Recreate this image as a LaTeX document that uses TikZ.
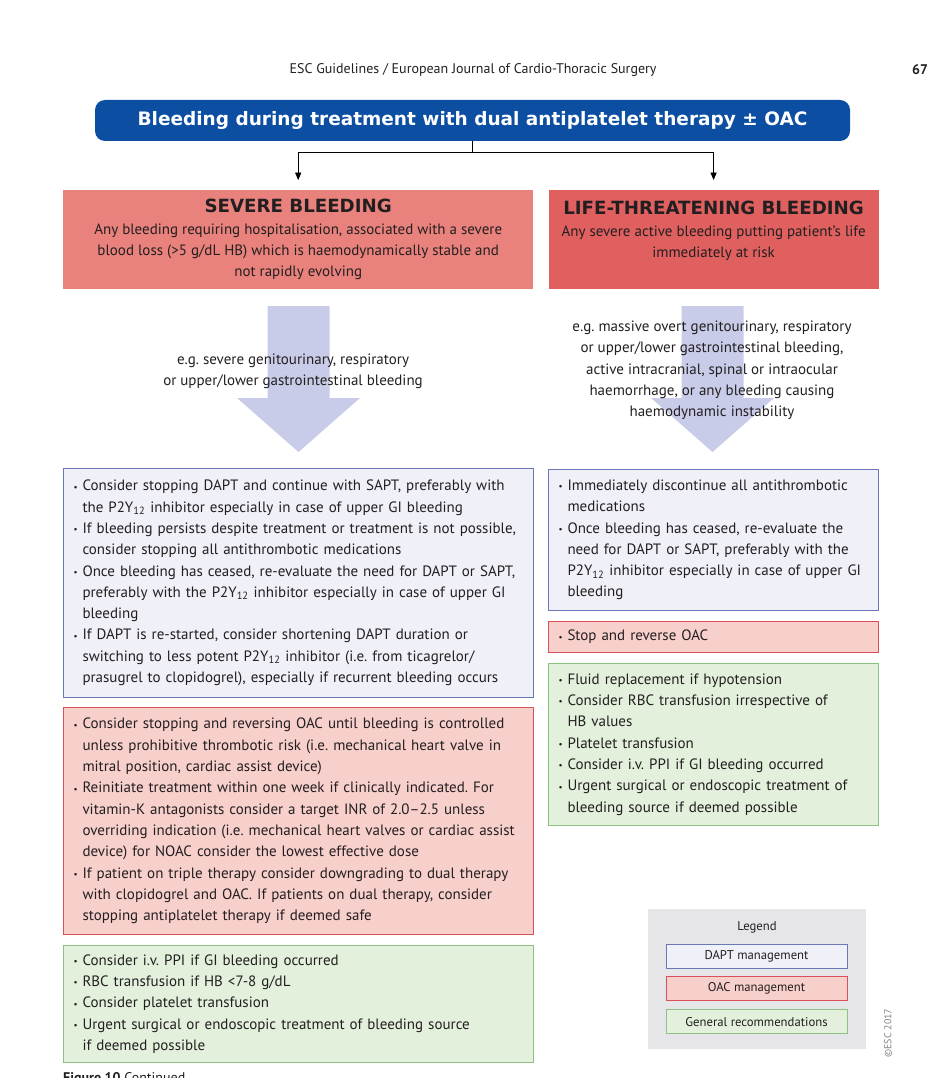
\documentclass[tikz,border=0pt]{standalone}
\usepackage{fontspec}
\setmainfont{PT Sans}
\newfontfamily\headfont{DejaVu Sans}
\usetikzlibrary{positioning,arrows}

\definecolor{escblue}{HTML}{0B4EA2}
\definecolor{sevfill}{HTML}{E9827C}
\definecolor{lifefill}{HTML}{E0605F}
\definecolor{arrfill}{HTML}{C8CCE8}
\definecolor{daptfill}{HTML}{EFF0F8}
\definecolor{daptline}{HTML}{6A78B8}
\definecolor{oacfill}{HTML}{F7CFCB}
\definecolor{oacline}{HTML}{D9505A}
\definecolor{genfill}{HTML}{E3F0DC}
\definecolor{genline}{HTML}{8CC383}
\definecolor{legfill}{HTML}{E6E6E8}
\definecolor{txt}{HTML}{231F20}

\frenchspacing
\newcommand{\bodysize}{\fontsize{15}{21.3}\selectfont}
\newcommand{\bul}{\makebox[9pt][l]{\raisebox{.1ex}{\small\textbullet}}}
\newcommand{\hang}{\hspace*{9pt}}
\newcommand{\ptwo}{P2Y\textsubscript{12}}

\begin{document}
\begin{tikzpicture}[x=1pt,y=-1pt,node distance=9pt and 15pt,
    every node/.style={inner sep=0pt,text=txt},
    titlebox/.style={fill=escblue,rounded corners=10pt,minimum width=755pt,minimum height=41pt,
      text=white,font=\headfont\bfseries\fontsize{18.5}{22}\selectfont},
    topbox/.style={anchor=north west,minimum height=99pt,align=center,
      font=\fontsize{15}{21}\selectfont},
    infobox/.style={anchor=north west,line width=1pt,inner xsep=10pt,align=left,font=\bodysize},
    dapt/.style={infobox,draw=daptline,fill=daptfill},
    oac/.style={infobox,draw=oacline,fill=oacfill},
    gen/.style={infobox,draw=genline,fill=genfill},
    note/.style={align=center,font=\fontsize{15}{21.3}\selectfont},
    blockarr/.style={fill=arrfill},
    conn/.style={draw=black,line width=0.7pt},
    legitem/.style={line width=0.8pt,minimum width=181pt,minimum height=24pt,
      font=\fontsize{12.7}{15}\selectfont}]

    \useasboundingbox (0,0) rectangle (926,1078);

    % Page head
    \node[font=\fontsize{14}{16}\selectfont] (hdr) at (473,70)
      {ESC Guidelines / European Journal of Cardio-Thoracic Surgery};
    \node[anchor=west,font=\bfseries\fontsize{14}{16}\selectfont] (pg) at (912,70) {67};

    % Title and the two kinds of bleeding
    \node[titlebox] (title) at (472.5,120.5)
      {Bleeding during treatment with dual antiplatelet therapy ± OAC};
    \node[topbox,fill=sevfill,minimum width=470pt] (sev) at (63,190)
      {{\headfont\fontsize{18.2}{23}\selectfont\bfseries SEVERE BLEEDING}\\[1pt]
       Any bleeding requiring hospitalisation, associated with a severe\\
       blood loss (>5 g/dL HB) which is haemodynamically stable and\\
       not rapidly evolving};
    \node[topbox,fill=lifefill,minimum width=330pt,right=of sev.north east,anchor=north west] (life)
      {{\headfont\fontsize{18.2}{23}\selectfont\bfseries LIFE-THREATENING BLEEDING}\\[1pt]
       Any severe active bleeding putting patient's life\\
       immediately at risk\\
       \mbox{}};

    % Connectors
    \draw[conn] (title.south) -- ++(0,11) coordinate (jn);
    \draw[conn,-triangle 45] (jn) -| ([yshift=10pt]sev.north);
    \draw[conn,-triangle 45] (jn) -| ([yshift=10pt]life.north);

    % Block arrows
    \coordinate (aL) at (298.5,306);
    \coordinate (aR) at (712.5,306);
    \foreach \a in {aL,aR}
      \fill[blockarr] (\a) ++(-31,0) -- ++(62,0) -- ++(0,92) -- ++(30.5,0)
        -- ++(-61.5,54) -- ++(-61.5,-54) -- ++(30.5,0) -- cycle;

    \node[note] (noteL) at (293,371.5)
      {e.g. severe genitourinary, respiratory\\
       or upper/lower gastrointestinal bleeding};
    \node[note] (noteR) at (712,370.5)
      {e.g. massive overt genitourinary, respiratory\\
       or upper/lower gastrointestinal bleeding,\\
       active intracranial, spinal or intraocular\\
       haemorrhage, or any bleeding causing\\
       haemodynamic instability};

    % Severe bleeding column
    \node[dapt,text width=450pt,minimum height=229pt] (daptL) at (63,468)
      {\bul Consider stopping DAPT and continue with SAPT, preferably with\\
       \hang the \ptwo\ inhibitor especially in case of upper GI bleeding\\
       \bul If bleeding persists despite treatment or treatment is not possible,\\
       \hang consider stopping all antithrombotic medications\\
       \bul Once bleeding has ceased, re-evaluate the need for DAPT or SAPT,\\
       \hang preferably with the \ptwo\ inhibitor especially in case of upper GI\\
       \hang bleeding\\
       \bul If DAPT is re-started, consider shortening DAPT duration or\\
       \hang switching to less potent \ptwo\ inhibitor (i.e. from ticagrelor/\\
       \hang prasugrel to clopidogrel), especially if recurrent bleeding occurs};
    \node[oac,text width=450pt,minimum height=227pt,below=of daptL] (oacL)
      {\bul Consider stopping and reversing OAC until bleeding is controlled\\
       \hang unless prohibitive thrombotic risk (i.e. mechanical heart valve in\\
       \hang mitral position, cardiac assist device)\\
       \bul Reinitiate treatment within one week if clinically indicated. For\\
       \hang vitamin-K antagonists consider a target INR of 2.0--2.5 unless\\
       \hang overriding indication (i.e. mechanical heart valves or cardiac assist\\
       \hang device) for NOAC consider the lowest effective dose\\
       \bul If patient on triple therapy consider downgrading to dual therapy\\
       \hang with clopidogrel and OAC. If patients on dual therapy, consider\\
       \hang stopping antiplatelet therapy if deemed safe};
    \node[gen,text width=450pt,minimum height=117pt,below=10pt of oacL] (genL)
      {\bul Consider i.v. PPI if GI bleeding occurred\\
       \bul RBC transfusion if HB <7-8 g/dL\\
       \bul Consider platelet transfusion\\
       \bul Urgent surgical or endoscopic treatment of bleeding source\\
       \hang if deemed possible};

    % Life-threatening bleeding column
    \node[dapt,text width=310pt,minimum height=141pt] (daptR) at (548,469)
      {\bul Immediately discontinue all antithrombotic\\
       \hang medications\\
       \bul Once bleeding has ceased, re-evaluate the\\
       \hang need for DAPT or SAPT, preferably with the\\
       \hang \ptwo\ inhibitor especially in case of upper GI\\
       \hang bleeding};
    \node[oac,text width=310pt,minimum height=31pt,below=10pt of daptR] (oacR)
      {\bul Stop and reverse OAC};
    \node[gen,text width=310pt,minimum height=162pt,below=10pt of oacR] (genR)
      {\bul Fluid replacement if hypotension\\
       \bul Consider RBC transfusion irrespective of\\
       \hang HB values\\
       \bul Platelet transfusion\\
       \bul Consider i.v. PPI if GI bleeding occurred\\
       \bul Urgent surgical or endoscopic treatment of\\
       \hang bleeding source if deemed possible};

    % Legend
    \node[fill=legfill,minimum width=218pt,minimum height=140pt] (leg) at (757,979) {};
    \node[font=\fontsize{12.7}{15}\selectfont] (legT) at (757,927) {Legend};
    \node[legitem,draw=daptline,fill=daptfill] (legD) at (756.5,956) {DAPT management};
    \node[legitem,draw=oacline,fill=oacfill,below=8pt of legD] (legO) {OAC management};
    \node[legitem,draw=genline,fill=genfill,below=8pt of legO] (legG) {General recommendations};
    \node[rotate=90,text=gray,font=\fontsize{10}{12}\selectfont] (copy) at (888,1033) {\textcopyright ESC 2017};

    % Caption, cut by the page edge
    \node[anchor=north west,font=\fontsize{14}{16}\selectfont] (cap) at (63,1072)
      {\textbf{Figure 10} Continued};
\end{tikzpicture}
\end{document}
